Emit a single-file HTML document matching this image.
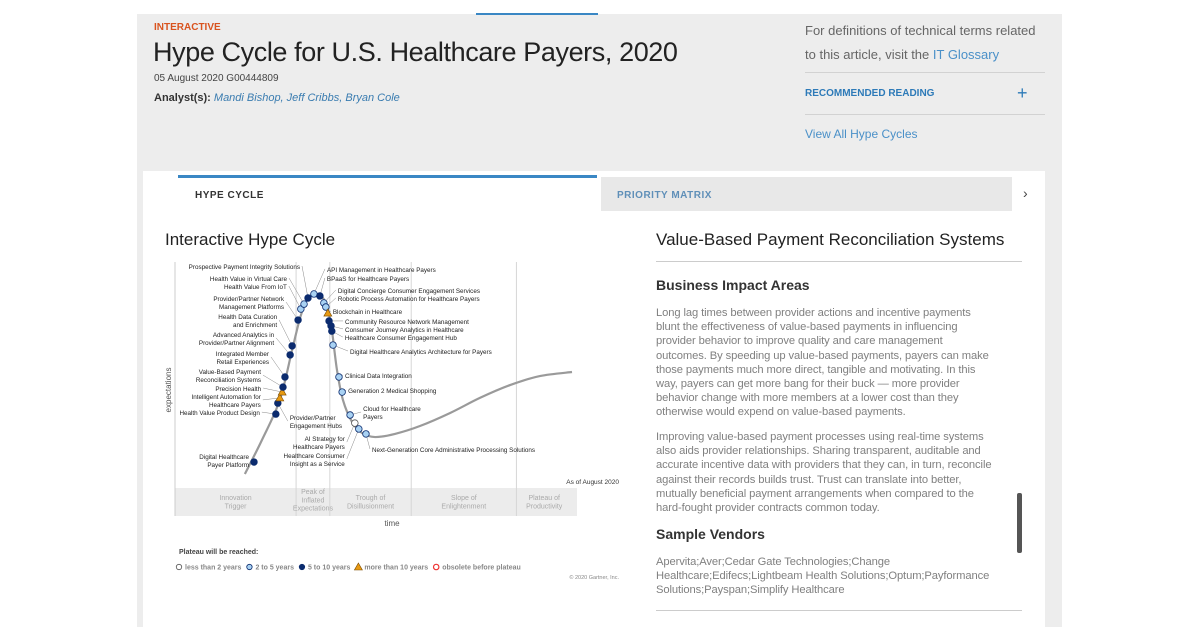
<!DOCTYPE html>
<html><head><meta charset="utf-8">
<style>
*{margin:0;padding:0;box-sizing:border-box}
body{width:1200px;height:627px;background:#fff;font-family:"Liberation Sans",sans-serif;position:relative;overflow:hidden}
.abs{position:absolute;white-space:nowrap}
#bg{left:137px;top:14px;width:925px;height:613px;background:#ededed}
#card{left:143px;top:171px;width:902px;height:456px;background:#fff}
.p{font-size:11.2px;color:#808080;line-height:14.2px;letter-spacing:-0.1px}
</style></head><body>
<div id="bg" class="abs"></div>
<div class="abs" style="left:476px;top:13px;width:122px;height:2px;background:#3a87c4"></div>
<div class="abs" style="left:154px;top:22px;font-size:10px;font-weight:bold;color:#d9531e">INTERACTIVE</div>
<div class="abs" style="left:153px;top:37px;font-size:27px;color:#222;letter-spacing:-0.4px">Hype Cycle for U.S. Healthcare Payers, 2020</div>
<div class="abs" style="left:154px;top:73px;font-size:10px;color:#444">05 August 2020 G00444809</div>
<div class="abs" style="left:154px;top:92px;font-size:11px;color:#333"><b>Analyst(s):</b> <i style="color:#3a7cb0">Mandi Bishop, Jeff Cribbs, Bryan Cole</i></div>
<div class="abs" style="left:805px;top:19px;font-size:13px;color:#666;line-height:24px">For definitions of technical terms related<br>to this article, visit the <span style="color:#4a90c8">IT Glossary</span></div>
<div class="abs" style="left:805px;top:72px;width:240px;border-top:1px solid #d2d2d2"></div>
<div class="abs" style="left:805px;top:88px;font-size:10px;font-weight:bold;color:#2d7ab8">RECOMMENDED READING</div>
<div class="abs" style="left:1017px;top:83px;font-size:18px;color:#2d7ab8">+</div>
<div class="abs" style="left:805px;top:114px;width:240px;border-top:1px solid #d2d2d2"></div>
<div class="abs" style="left:805px;top:127px;font-size:12px;color:#4a90c8">View All Hype Cycles</div>

<div id="card" class="abs"></div>
<div class="abs" style="left:178px;top:175px;width:419px;height:3px;background:#3a87c4"></div>
<div class="abs" style="left:195px;top:190px;font-size:10px;font-weight:bold;color:#333;letter-spacing:0.5px">HYPE CYCLE</div>
<div class="abs" style="left:601px;top:177px;width:411px;height:34px;background:#e8e8e8"></div>
<div class="abs" style="left:617px;top:190px;font-size:10px;font-weight:bold;color:#5f8fb8;letter-spacing:0.5px">PRIORITY MATRIX</div>
<div class="abs" style="left:1023px;top:185px;font-size:14px;color:#444">›</div>

<div class="abs" style="left:165px;top:230px;font-size:17px;color:#222">Interactive Hype Cycle</div>

<div class="abs" style="left:656px;top:230px;font-size:17px;color:#222">Value-Based Payment Reconciliation Systems</div>
<div class="abs" style="left:656px;top:261px;width:366px;border-top:1px solid #ccc"></div>
<div class="abs" style="left:656px;top:277px;font-size:14px;font-weight:bold;color:#333">Business Impact Areas</div>
<div class="abs p" style="left:656px;top:306px">Long lag times between provider actions and incentive payments<br>blunt the effectiveness of value-based payments in influencing<br>provider behavior to improve quality and care management<br>outcomes. By speeding up value-based payments, payers can make<br>those payments much more direct, tangible and motivating. In this<br>way, payers can get more bang for their buck — more provider<br>behavior change with more members at a lower cost than they<br>otherwise would expend on value-based payments.</div>
<div class="abs p" style="left:656px;top:430px">Improving value-based payment processes using real-time systems<br>also aids provider relationships. Sharing transparent, auditable and<br>accurate incentive data with providers that they can, in turn, reconcile<br>against their records builds trust. Trust can translate into better,<br>mutually beneficial payment arrangements when compared to the<br>hard-fought provider contracts common today.</div>
<div class="abs" style="left:656px;top:526px;font-size:14px;font-weight:bold;color:#333">Sample Vendors</div>
<div class="abs p" style="left:656px;top:555px">Apervita;Aver;Cedar Gate Technologies;Change<br>Healthcare;Edifecs;Lightbeam Health Solutions;Optum;Payformance<br>Solutions;Payspan;Simplify Healthcare</div>
<div class="abs" style="left:656px;top:610px;width:366px;border-top:1px solid #ccc"></div>
<div class="abs" style="left:1017px;top:493px;width:5px;height:60px;background:#555;border-radius:2px"></div>

<svg class="abs" style="left:0;top:0" width="1200" height="627" id="chart"></svg>

<script>
// data (time 0-100, expectations 0-100)
const curveT=[17.6,21.9,26.4,29.5,31.5,33.2,35.0,36.8,38.3,39.5,40.8,42.3,44.6,47.1,50.4,55.4,61.7,69.3,76.8,84.4,91.9,100];
const curveE=[5.8,20.9,38.7,60.9,75.1,83.1,85.8,84.9,80.4,69.8,52,38.7,28.9,24,22.2,23.6,27.1,32.9,39.6,45.3,49.3,51.1];
const names=["Digital Healthcare|Payer Platform","Health Value Product Design","Provider/Partner|Engagement Hubs","Intelligent Automation for|Healthcare Payers","Precision Health","Value-Based Payment|Reconciliation Systems","Integrated Member|Retail Experiences","Advanced Analytics in|Provider/Partner Alignment","Health Data Curation|and Enrichment","Provider/Partner Network|Management Platforms","Health Value From IoT","Health Value in Virtual Care","Prospective Payment Integrity Solutions","API Management in Healthcare Payers","BPaaS for Healthcare Payers","Digital Concierge Consumer Engagement Services","Robotic Process Automation for Healthcare Payers","Blockchain in Healthcare","Community Resource Network Management","Consumer Journey Analytics in Healthcare","Healthcare Consumer Engagement Hub","Digital Healthcare Analytics Architecture for Payers","Clinical Data Integration","Generation 2 Medical Shopping","Cloud for Healthcare|Payers","AI Strategy for|Healthcare Payers","Healthcare Consumer|Insight as a Service","Next-Generation Core Administrative Processing Solutions"];
const itemT=[19.9,25.4,25.9,26.4,27.0,27.2,27.7,29.0,29.5,31.0,31.7,32.5,33.5,35.0,36.5,37.5,38.0,38.5,38.8,39.3,39.5,39.8,41.3,42.1,44.1,45.3,46.3,48.1];
const itemE=[11.1,32.4,37.3,39.6,42.2,44.4,48.9,58.7,62.7,74.2,79.1,81.3,84.0,85.8,84.9,81.8,80.0,77.3,73.8,71.6,69.3,63.1,48.9,42.2,32.0,28.4,25.8,23.6];
const itemCat=[3,3,3,4,4,3,3,3,3,3,2,2,3,2,3,2,2,4,3,3,3,2,2,2,2,1,2,2];
const phases=["Innovation|Trigger","Peak of|Inflated|Expectations","Trough of|Disillusionment","Slope of|Enlightenment","Plateau of|Productivity"];
const phaseEnd=[30.5,39,59.5,86,100];
const legendLabels=["less than 2 years","2 to 5 years","5 to 10 years","more than 10 years","obsolete before plateau"];
// label layout (pixel offsets from dot) - layout, not data
const labelLayout=[["end",-5,-4],["end",-16,0],["start",12,16],["end",-19,0],["end",-21,-2],["end",-22,-14],["end",-16,-22],["end",-16,-19],["end",-15,-28],["end",-14,-20],["end",-14,-21],["end",-17,-24],["end",-8,-30],["start",13,-23],["start",7,-16],["start",14,-11],["start",12,-7],["start",5,0],["start",16,2],["start",14,5],["start",13,8],["start",17,8],["start",6,0],["start",6,0],["start",13,-5],["end",-10,17],["end",-14,28],["start",6,17]];

const X0=175,X1=572,Y0=487,Y1=262;
const xs=t=>X0+(X1-X0)*t/100, ys=e=>Y0-(Y0-Y1)*e/100;
const svg=document.getElementById('chart');
const NS='http://www.w3.org/2000/svg';
function mk(tag,attrs,parent){const el=document.createElementNS(NS,tag);for(const k in attrs)el.setAttribute(k,attrs[k]);(parent||svg).appendChild(el);return el;}

let prev=0;
phaseEnd.forEach((pe,i)=>{
  if(i<4){const l=mk('line',{x1:xs(pe),x2:xs(pe),y1:Y1,y2:516,stroke:'#d6d6d6'});
  
  }
  const lines=phases[i].split('|');const cx=(xs(prev)+xs(pe))/2;
  lines.forEach((s,j)=>{const tx=mk('text',{x:cx,y:(lines.length==3?494:500)+j*8.3,'font-size':7,fill:'#aaa','text-anchor':'middle'});tx.textContent=s;
  
  });
  prev=pe;
});
const band=mk('rect',{x:X0,y:488,width:X1-X0+5,height:28,fill:'#e9e9e9',opacity:0.85});


svg.insertBefore(band,svg.firstChild);
const ax=mk('line',{x1:X0,x2:X0,y1:Y1,y2:516,stroke:'#ccc'});


const yt=mk('text',{x:0,y:0,'font-size':8,fill:'#555','text-anchor':'middle',transform:'translate(171,390) rotate(-90)'});yt.textContent='expectations';


const xt=mk('text',{x:392,y:526,'font-size':8,fill:'#555','text-anchor':'middle'});xt.textContent='time';


const asof=mk('text',{x:619,y:484,'font-size':6.5,fill:'#333','text-anchor':'end'});asof.textContent='As of August 2020';



const P=curveT.map((t,i)=>[xs(t),ys(curveE[i])]);
let d='M'+P[0][0]+','+P[0][1];
for(let i=0;i<P.length-1;i++){const p0=P[Math.max(0,i-1)],p1=P[i],p2=P[i+1],p3=P[Math.min(P.length-1,i+2)];
d+=` C${p1[0]+(p2[0]-p0[0])/6},${p1[1]+(p2[1]-p0[1])/6} ${p2[0]-(p3[0]-p1[0])/6},${p2[1]-(p3[1]-p1[1])/6} ${p2[0]},${p2[1]}`;}
const cv=mk('path',{d:d,fill:'none',stroke:'#9a9a9a','stroke-width':2.2});



const fills={1:'#fff',2:'#a9d2f3',3:'#0b2b6e',4:'#e89a12'};
function marker(cat,x,y,parent,r){
  r=r||3.3;let m;
  if(cat==4)m=mk('path',{d:`M${x},${y-4} L${x+4},${y+3} L${x-4},${y+3}Z`,fill:fills[4],stroke:'#7a4a00','stroke-width':0.6},parent);
  else if(cat==5){m=mk('circle',{cx:x,cy:y,r:r,fill:'#fff',stroke:'#e33','stroke-width':1.2},parent);}
  else m=mk('circle',{cx:x,cy:y,r:r,fill:fills[cat],stroke:cat==1?'#555':'#0b2b6e','stroke-width':0.8},parent);
  return m;
}
names.forEach((n,i)=>{
  const x=xs(itemT[i]),y=ys(itemE[i]);const L=labelLayout[i];
  const g=mk('g',{});
  
  
  const lx=x+L[1],ly=y+L[2];const parts=n.split('|');
  const lineY=ly+(parts.length-1)*4;
  mk('line',{x1:L[0]=='end'?lx+2:lx-2,y1:lineY-2,x2:x,y2:y,stroke:'#888','stroke-width':0.5},g);
  parts.forEach((s,j)=>{const t=mk('text',{x:lx,y:ly+j*8+1,'font-size':6.3,fill:'#222','text-anchor':L[0]},g);t.textContent=s;});
  marker(itemCat[i],x,y,g);
});

const lt=mk('text',{x:179,y:554,'font-size':7,fill:'#444','font-weight':'bold'});lt.textContent='Plateau will be reached:';


let lxp=179;
legendLabels.forEach((s,i)=>{
  const g=mk('g',{});
  
  
  marker(i+1,lxp,567,g,2.7);
  const t=mk('text',{x:lxp+6,y:569.5,'font-size':7,'font-weight':'bold',fill:'#888'},g);t.textContent=s;
  lxp+=6+t.getComputedTextLength()+8;
});
const cp=mk('text',{x:619,y:579,'font-size':5.5,fill:'#888','text-anchor':'end'});cp.textContent='© 2020 Gartner, Inc.';


</script>
</body></html>
